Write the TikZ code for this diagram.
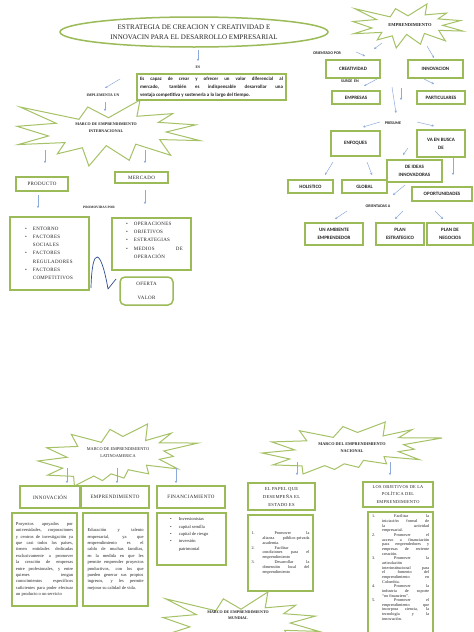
\documentclass[tikz,border=0pt]{standalone}
\usepackage{fontspec}
\setmainfont{Liberation Serif}
\newfontfamily\calfont{Carlito}
\newfontfamily\spfont[LetterSpace=6]{Liberation Serif}
\usetikzlibrary{shapes.geometric,arrows.meta}
\definecolor{boxgreen}{HTML}{9BBB59}
\definecolor{burstgreen}{HTML}{A6C266}
\definecolor{arrblue}{HTML}{8EAADB}
\definecolor{inkblue}{HTML}{2F4B8F}
\definecolor{txt}{HTML}{222222}
\tikzset{
  sealone/.pic={\draw[burstline] (108,58) -- (145.22,0) -- (141.55,53.25) -- (183.80,44.57) -- (167.02,73.15) -- (210.97,81.37) -- (176.07,104.75) -- (216,132.90) -- (168.37,129.42) -- (181.45,180.95) -- (140.20,144.57) -- (132.47,197.37) -- (105.32,149.35) -- (84.85,216) -- (77.15,156.27) -- (47.62,176.17) -- (56.67,139.37) -- (1.35,145.87) -- (37.22,117.75) -- (0,86.15) -- (46.27,76.17) -- (3.70,22.95) -- (73.12,63.20) -- (83.52,22.95) -- cycle;},
  sealtwo/.pic={\draw[burstline] (114.62,43.42) -- (147.90,0) -- (145.25,57.77) -- (180.07,31.72) -- (163.80,65.32) -- (216,66.45) -- (169.85,94.02) -- (182.70,112.90) -- (163.80,123.10) -- (188.77,156.32) -- (146.40,143.50) -- (149.42,173.70) -- (121.80,159.35) -- (116.12,188.42) -- (98.72,173.70) -- (87.00,197.12) -- (75.27,181.25) -- (49.17,216) -- (48.05,182.40) -- (12.85,178.25) -- (33.30,153.70) -- (0,128.77) -- (39.35,115.92) -- (11.72,82.70) -- (53.72,78.17) -- (45.02,36.25) -- (85.50,63.82) -- (97.22,18.87) -- cycle;}
}
\begin{document}
\begin{tikzpicture}[x=1pt,y=-1pt,
  burstline/.style={draw=burstgreen,line width=1pt,fill=white,line join=miter},
  gbox/.style={draw=boxgreen,line width=1.5pt,fill=white,inner sep=0pt,align=center,text=txt},
  btxt/.style={inner sep=0pt,align=center,text=txt},
  arr/.style={draw=arrblue,line width=0.5pt,-{Stealth[length=2.4pt,width=2.4pt]}},
  slab/.style={inner sep=0pt,text=txt,font=\bfseries\fontsize{3.8}{4.5}\selectfont},
  clab/.style={inner sep=0pt,text=txt,font=\calfont\bfseries\fontsize{4}{5}\selectfont},
  cbox/.style={gbox,font=\calfont\bfseries\fontsize{5}{8}\selectfont},
  sbox/.style={gbox,font=\spfont\fontsize{5}{7}\selectfont},
  ltxt/.style={inner sep=0pt,text=txt,anchor=north west}]
\useasboundingbox (0,0) rectangle (474,632);
\clip (0,0) rectangle (474,632);
\fill[white] (0,0) rectangle (474,632);

% ---------- top left ----------
\node[ellipse,draw=boxgreen,line width=1.5pt,fill=white,minimum width=268pt,minimum height=30pt,inner sep=0pt,align=center,text=txt,font=\fontsize{7}{10}\selectfont] (title) at (194,32) {ESTRATEGIA DE CREACION Y CREATIVIDAD E\\INNOVACIN PARA EL DESARROLLO EMPRESARIAL};
\coordinate (a1s) at (198,50); \coordinate (a1e) at (198,61);
\draw[arr] (a1s) -- (a1e);
\node[slab] (es) at (198,67) {ES};
\coordinate (a2s) at (120,79); \coordinate (a2e) at (105,88);
\draw[arr] (a2s) -- (a2e);
\node[slab] (impl) at (103,95) {IMPLEMENTA UN};
\coordinate (a3s) at (105,102); \coordinate (a3e) at (105,111);
\draw[arr] (a3s) -- (a3e);
\pic[xscale=183/216,yscale=66/216] at (17,100) {sealone};
\node[btxt,font=\bfseries\fontsize{4}{6.5}\selectfont] (intl) at (106,127.5) {MARCO DE EMPRENDIMIENTO\\INTERNACIONAL};
\node[gbox,minimum width=149pt,minimum height=26pt,text width=143pt,align=justify,font=\calfont\bfseries\fontsize{4.9}{8}\selectfont] (esbox) at (211.5,87) {Es capaz de crear y ofrecer un valor diferencial al\linebreak mercado, también es indispensable desarrollar una\linebreak ventaja competitiva y sostenerla a lo largo del tiempo.};
\coordinate (a4s) at (45,150); \coordinate (a4e) at (45,163);
\coordinate (a5s) at (145,150); \coordinate (a5e) at (145,163);
\draw[arr] (a4s) -- (a4e);
\draw[arr] (a5s) -- (a5e);
\node[sbox,minimum width=52pt,minimum height=14pt] (producto) at (42,184) {PRODUCTO};
\node[sbox,minimum width=53pt,minimum height=11pt] (mercado) at (141.5,177.5) {MERCADO};
\coordinate (a6s) at (38,195); \coordinate (a6e) at (38,208);
\coordinate (a7s) at (145,190); \coordinate (a7e) at (145,204);
\draw[arr] (a6s) -- (a6e);
\draw[arr] (a7s) -- (a7e);
\node[slab,font=\bfseries\fontsize{3.4}{4}\selectfont] (promo) at (99,207) {PROMOVIDAS POR};
\node[gbox,minimum width=79pt,minimum height=73pt] (prodlist) at (49.5,253.5) {};
\node[ltxt,font=\spfont\fontsize{5}{8.3}\selectfont] (prodtxt) at (25,224) {\begin{tabular}{@{}l@{\hspace{6pt}}l@{}}
\textbullet & ENTORNO\\ \textbullet & FACTORES\\ & SOCIALES\\ \textbullet & FACTORES\\ & REGULADORES\\ \textbullet & FACTORES\\ & COMPETITIVOS\end{tabular}};
\node[gbox,minimum width=79pt,minimum height=52pt] (merclist) at (151.5,244) {};
\node[ltxt,font=\spfont\fontsize{5}{8.2}\selectfont] (merctxt) at (126,219.5) {\begin{tabular}{@{}l@{\hspace{6pt}}p{49pt}@{}}
\textbullet & OPERACIONES\\ \textbullet & OBJETIVOS\\ \textbullet & ESTRATEGIAS\\ \textbullet & MEDIOS\hfill DE\\ & OPERACIÓN\end{tabular}};
\coordinate (c0) at (91,288); \coordinate (c2) at (108,289); \coordinate (c3) at (116,279);
\draw[inkblue,line width=0.7pt,line join=round] (c0) .. controls (92,245) and (101,248) .. (c2) -- (c3);
\node[gbox,rounded corners=5pt,minimum width=53pt,minimum height=28pt,font=\spfont\fontsize{5}{14}\selectfont] (oferta) at (146.5,291) {OFERTA\\VALOR};

% ---------- top right ----------
\pic[xscale=110/216,yscale=44/216] at (353,4) {sealone};
\node[btxt,font=\bfseries\fontsize{4.5}{6}\selectfont] (empr) at (410,25) {EMPRENDIMIENTO};
\node[clab] (orient) at (327,53) {ORIENTADO POR};
\coordinate (b1s) at (356,52); \coordinate (b1e) at (365,56);
\draw[arr] (b1s) -- (b1e);
\coordinate (b2s) at (382,43); \coordinate (b2e) at (374,49);
\draw[arr] (b2s) -- (b2e);
\coordinate (b3s) at (427,46); \coordinate (b3e) at (434,58);
\draw[arr] (b3s) -- (b3e);
\node[cbox,minimum width=54pt,minimum height=18pt] (creat) at (353,69) {CREATIVIDAD};
\node[cbox,minimum width=55pt,minimum height=18pt] (innov) at (435.5,69) {INNOVACION};
\node[clab] (surge) at (350,81) {SURGE \ EN};
\coordinate (b4s) at (377,79); \coordinate (b4e) at (364,86);
\draw[arr] (b4s) -- (b4e);
\coordinate (b5s) at (424,79); \coordinate (b5e) at (434,84);
\draw[arr] (b5s) -- (b5e);
\node[cbox,minimum width=48pt,minimum height=13pt] (empresas) at (356,97.5) {EMPRESAS};
\node[cbox,minimum width=48pt,minimum height=13pt] (partic) at (441,97.5) {PARTICULARES};
\coordinate (b6s) at (392,87); \coordinate (b6e) at (396,113);
\draw[arr] (b6s) -- (b6e);
\coordinate (b7s) at (401,88); \coordinate (b7e) at (401,100);
\draw[arr] (b7s) -- (b7e);
\node[clab] (presume) at (393,123) {PRESUME};
\coordinate (b8s) at (380,122); \coordinate (b8e) at (363,127);
\draw[arr] (b8s) -- (b8e);
\coordinate (b9s) at (417,122); \coordinate (b9e) at (434,126);
\draw[arr] (b9s) -- (b9e);
\node[cbox,minimum width=49pt,minimum height=25pt] (enfoq) at (355.5,143.5) {ENFOQUES};
\node[cbox,minimum width=48pt,minimum height=27pt] (busca) at (441,143.5) {VA EN BUSCA\\DE};
\coordinate (d1s) at (333,162); \coordinate (d1e) at (325,175);
\draw[arr] (d1s) -- (d1e);
\coordinate (d2s) at (367,162); \coordinate (d2e) at (372,175);
\draw[arr] (d2s) -- (d2e);
\coordinate (d3s) at (408,148); \coordinate (d3e) at (403,155);
\draw[arr] (d3s) -- (d3e);
\coordinate (d4s) at (453,158); \coordinate (d4e) at (453,175);
\draw[arr] (d4s) -- (d4e);
\node[cbox,minimum width=45pt,minimum height=13pt] (holis) at (310.5,186.5) {HOLISTICO};
\node[cbox,minimum width=55pt,minimum height=22pt] (ideas) at (414.5,171) {DE IDEAS\\INNOVADORAS};
\node[cbox,minimum width=45pt,minimum height=13pt] (global) at (364.5,186.5) {GLOBAL};
\node[cbox,minimum width=60pt,minimum height=14pt] (oport) at (442,194) {OPORTUNIDADES};
\coordinate (d5s) at (405,185); \coordinate (d5e) at (393,195);
\draw[arr] (d5s) -- (d5e);
\node[clab] (orientas) at (378,206) {ORIENTADAS A};
\coordinate (e1s) at (347,211); \coordinate (e1e) at (335,219);
\draw[arr] (e1s) -- (e1e);
\coordinate (e2s) at (403,211); \coordinate (e2e) at (395,219);
\draw[arr] (e2s) -- (e2e);
\coordinate (e3s) at (435,211); \coordinate (e3e) at (443,219);
\draw[arr] (e3s) -- (e3e);
\node[cbox,minimum width=58pt,minimum height=22pt] (ambiente) at (334,234) {UN AMBIENTE\\EMPRENDEDOR};
\node[cbox,minimum width=48pt,minimum height=22pt] (planest) at (400,234) {PLAN\\ESTRATEGICO};
\node[cbox,minimum width=46pt,minimum height=22pt] (planneg) at (450,234) {PLAN DE\\NEGOCIOS};

% ---------- bottom left ----------
\pic[xscale=160/216,yscale=62/216] at (38,424) {sealtwo};
\node[btxt,font=\fontsize{4.3}{7}\selectfont] (latam) at (118,453) {MARCO DE EMPRENDIMIENTO\\LATINOAMERICA};
\coordinate (f1s) at (67,468); \coordinate (f1e) at (67,483);
\coordinate (f2s) at (117,468); \coordinate (f2e) at (117,483);
\coordinate (f3s) at (176,468); \coordinate (f3e) at (176,483);
\draw[arr] (f1s) -- (f1e);
\draw[arr] (f2s) -- (f2e);
\draw[arr] (f3s) -- (f3e);
\node[sbox,minimum width=60pt,minimum height=22pt] (innov2) at (50,497) {INNOVACIÓN};
\node[sbox,minimum width=68pt,minimum height=22pt] (empr2) at (115,497) {EMPRENDIMIENTO};
\node[sbox,minimum width=68pt,minimum height=22pt] (financ) at (191,497) {FINANCIAMIENTO};
\node[gbox,minimum width=65pt,minimum height=93pt,text width=57pt,align=justify,font=\fontsize{4.5}{6.4}\selectfont] (t1) at (44.5,559.5) {Proyectos apoyados por\linebreak universidades, corporaciones\linebreak y centros de investigación ya\linebreak que casi todos los países,\linebreak tienen entidades dedicadas\linebreak exclusivamente a promover\linebreak la creación de empresas\linebreak entre profesionales, y entre\linebreak quienes tengan\linebreak conocimientos específicos\linebreak suficientes para poder efectuar\linebreak un producto o un servicio};
\node[gbox,minimum width=65pt,minimum height=93pt,text width=56pt,align=justify,font=\fontsize{4.5}{6.4}\selectfont] (t2) at (115.5,559.5) {Educación y talento\linebreak empresarial, ya que\linebreak emprendimiento es el\linebreak caldo de muchas familias,\linebreak en la medida en que les\linebreak permite emprender proyectos\linebreak productivos, con los que\linebreak pueden generar sus propios\linebreak ingresos, y les permite\linebreak mejorar su calidad de vida.};
\node[gbox,minimum width=69pt,minimum height=52pt] (t3) at (191.5,539) {};
\node[ltxt,font=\fontsize{4.5}{7.3}\selectfont] (t3txt) at (170,515.5) {\begin{tabular}{@{}l@{\hspace{7pt}}l@{}}
\textbullet & Inversionistas\\ \textbullet & capital semilla\\ \textbullet & capital de riesgo\\ \textbullet & inversión\\ & patrimonial\end{tabular}};

% ---------- bottom right ----------
\pic[xscale=180/216,yscale=52/216] at (262,422) {sealtwo};
\node[btxt,font=\bfseries\fontsize{4.2}{7}\selectfont] (nacion) at (352,447.5) {MARCO DEL EMPRENDIMIENTO\\NACIONAL};
\coordinate (g1s) at (297,462); \coordinate (g1e) at (297,475);
\coordinate (g2s) at (390,462); \coordinate (g2e) at (390,475);
\draw[arr] (g1s) -- (g1e);
\draw[arr] (g2s) -- (g2e);
\node[sbox,minimum width=67pt,minimum height=27pt,font=\spfont\fontsize{4.6}{8}\selectfont] (papel) at (281.5,496.5) {EL PAPEL QUE\\DESEMPEÑA EL\\ESTADO ES};
\node[sbox,minimum width=70pt,minimum height=25pt,font=\spfont\fontsize{4.4}{7.5}\selectfont] (objet) at (398,494.5) {LOS OBJETIVOS DE LA\\POLÍTICA DEL\\EMPRENDIMIENTO};
\node[gbox,minimum width=65pt,minimum height=76pt,font=\fontsize{4.2}{4.8}\selectfont] (estado) at (280.5,553) {\begin{tabular}{@{}p{11pt}@{}p{47pt}@{}}
1. & \hspace*{12pt}Promover\hfill la\linebreak alianza público-privada\linebreak academia.\\
2. & \hspace*{12pt}Facilitar\linebreak condiciones para el\linebreak emprendimiento\\
3. & \hspace*{12pt}Desarrollar\hfill la\linebreak dimensión local del\linebreak emprendimiento
\end{tabular}};
\node[gbox,minimum width=65pt,minimum height=128pt] (objlist) at (400.5,576) {};
\node[ltxt,font=\fontsize{4.2}{4.65}\selectfont] (objtxt) at (372,514.5) {\begin{tabular}{@{}p{10pt}@{}p{47pt}@{}}
1. & \hspace*{12pt}Facilitar\hfill la\linebreak iniciación formal de\linebreak la\hfill actividad\linebreak empresarial.\\
2. & \hspace*{12pt}Promover\hfill el\linebreak acceso a financiación\linebreak para emprendedores y\linebreak empresas de reciente\linebreak creación.\\
3. & \hspace*{12pt}Promover\hfill la\linebreak articulación\hfill\linebreak interinstitucional para\linebreak el fomento del\linebreak emprendimiento en\linebreak Colombia.\\
4. & \hspace*{12pt}Promover\hfill la\linebreak industria de soporte\linebreak “no financiero”.\\
5. & \hspace*{12pt}Promover\hfill el\linebreak emprendimiento que\linebreak incorpora ciencia, la\linebreak tecnología y la\linebreak innovación.
\end{tabular}};

% ---------- bottom middle ----------
\pic[xscale=156/216,yscale=64/216] at (163,592) {sealone};
\node[btxt,font=\bfseries\fontsize{4}{6}\selectfont] (mundial) at (238,615) {MARCO DE EMPRENDIMIENTO\\MUNDIAL};
\end{tikzpicture}
\end{document}
